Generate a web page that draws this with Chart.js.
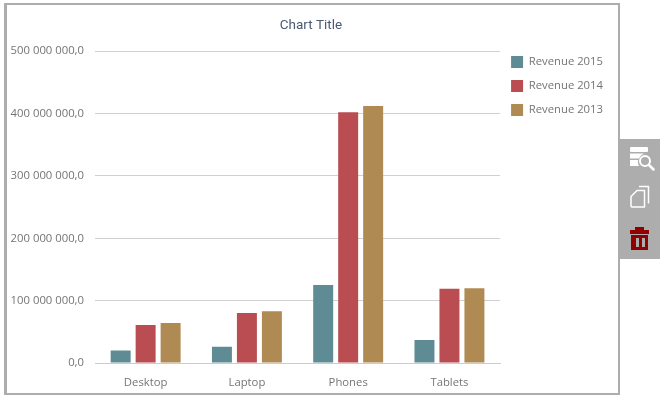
<!DOCTYPE html>
<html><head><meta charset="utf-8">
<script src="https://cdn.jsdelivr.net/npm/chart.js@4/dist/chart.umd.min.js"></script>
<style>
html,body{margin:0;padding:0;background:#fff;overflow:hidden}
#frame{position:absolute;left:4px;top:3px;width:611px;height:388px;border-style:solid;border-color:#adadad;border-width:2px 2px 2px 3px}
#chart{position:absolute;left:0;top:0}
#panel{position:absolute;left:618px;top:139px;width:42px;height:120px;background:#adadad}
#panel svg{position:absolute;left:0;top:0}
</style></head><body>
<div id="frame"></div>
<canvas id="chart" width="664" height="396"></canvas>
<div id="panel"><svg width="42" height="120" viewBox="0 0 42 120">
<g fill="#fff"><rect x="12" y="8" width="18" height="5" rx="1"/><path d="M12 14.500h14a8 8 0 0 0-5 5H12z"/><path d="M12 21h8a8 8 0 0 0 1 6H12z"/></g>
<g fill="none" stroke="#fff"><circle cx="27" cy="22" r="5" stroke-width="2"/><path d="M31 26l4.500 4.500" stroke-width="2.500" stroke-linecap="round"/>
<path d="M21 47.500h9.500v17M19 51.500h7.500v16.500h-12.500a1 1 0 0 1-1-1V57.500z" stroke-width="1.500" stroke-linejoin="round"/></g>
<path fill="#900000" fill-rule="evenodd" d="M17 88h9v3h5v4H12v-4h5zM13 96h17v15H13zM18 99v9h3v-9zM24 99v9h3v-9z"/>
</svg></div>
<script>
const categories = ['Desktop', 'Laptop', 'Phones', 'Tablets'];
const revenue2015 = [20000000, 26000000, 125000000, 37000000];
const revenue2014 = [61000000, 80000000, 402000000, 119000000];
const revenue2013 = [64000000, 83000000, 412000000, 120000000];
const tickFont = {family: 'Open Sans', size: 11.3};
const textColor = '#757575';
const placeLegend = {id: 'placeLegend', afterLayout(chart) { chart.legend.left -= 1; chart.legend.top += 44; }};
new Chart(document.getElementById('chart'), {
  type: 'bar',
  plugins: [placeLegend],
  data: {
    labels: categories,
    datasets: [
      {label: 'Revenue 2015', data: revenue2015, backgroundColor: '#5f8b95'},
      {label: 'Revenue 2014', data: revenue2014, backgroundColor: '#ba4d51'},
      {label: 'Revenue 2013', data: revenue2013, backgroundColor: '#af8a53'}
    ]
  },
  options: {
    responsive: false, animation: false,
    layout: {padding: {left: 8, right: 50, top: 0, bottom: 0}},
    barPercentage: 0.8, categoryPercentage: 0.74,
    plugins: {
      tooltip: {enabled: false},
      title: {display: true, text: 'Chart Title', color: '#4a5a76',
        font: {family: 'Roboto', size: 13.5, weight: 'normal'}, padding: {top: 18, bottom: 17}},
      legend: {position: 'right', align: 'start',
        labels: {boxWidth: 12, boxHeight: 12, padding: 12, color: textColor, font: tickFont}}
    },
    scales: {
      x: {grid: {display: false, drawTicks: false}, border: {color: '#cccccc'},
        afterFit(s) { s.height = 33; },
        ticks: {color: textColor, font: tickFont, padding: 13}},
      y: {min: 0, max: 500000000, grid: {color: '#d0d0d0', drawTicks: false}, border: {display: false},
        afterFit(s) { s.width = 87; },
        ticks: {stepSize: 100000000, color: textColor, font: tickFont, padding: 11,
          callback: v => String(v).replace(/\B(?=(\d{3})+$)/g, ' ') + ',0'}}
    }
  }
});
</script></body></html>
